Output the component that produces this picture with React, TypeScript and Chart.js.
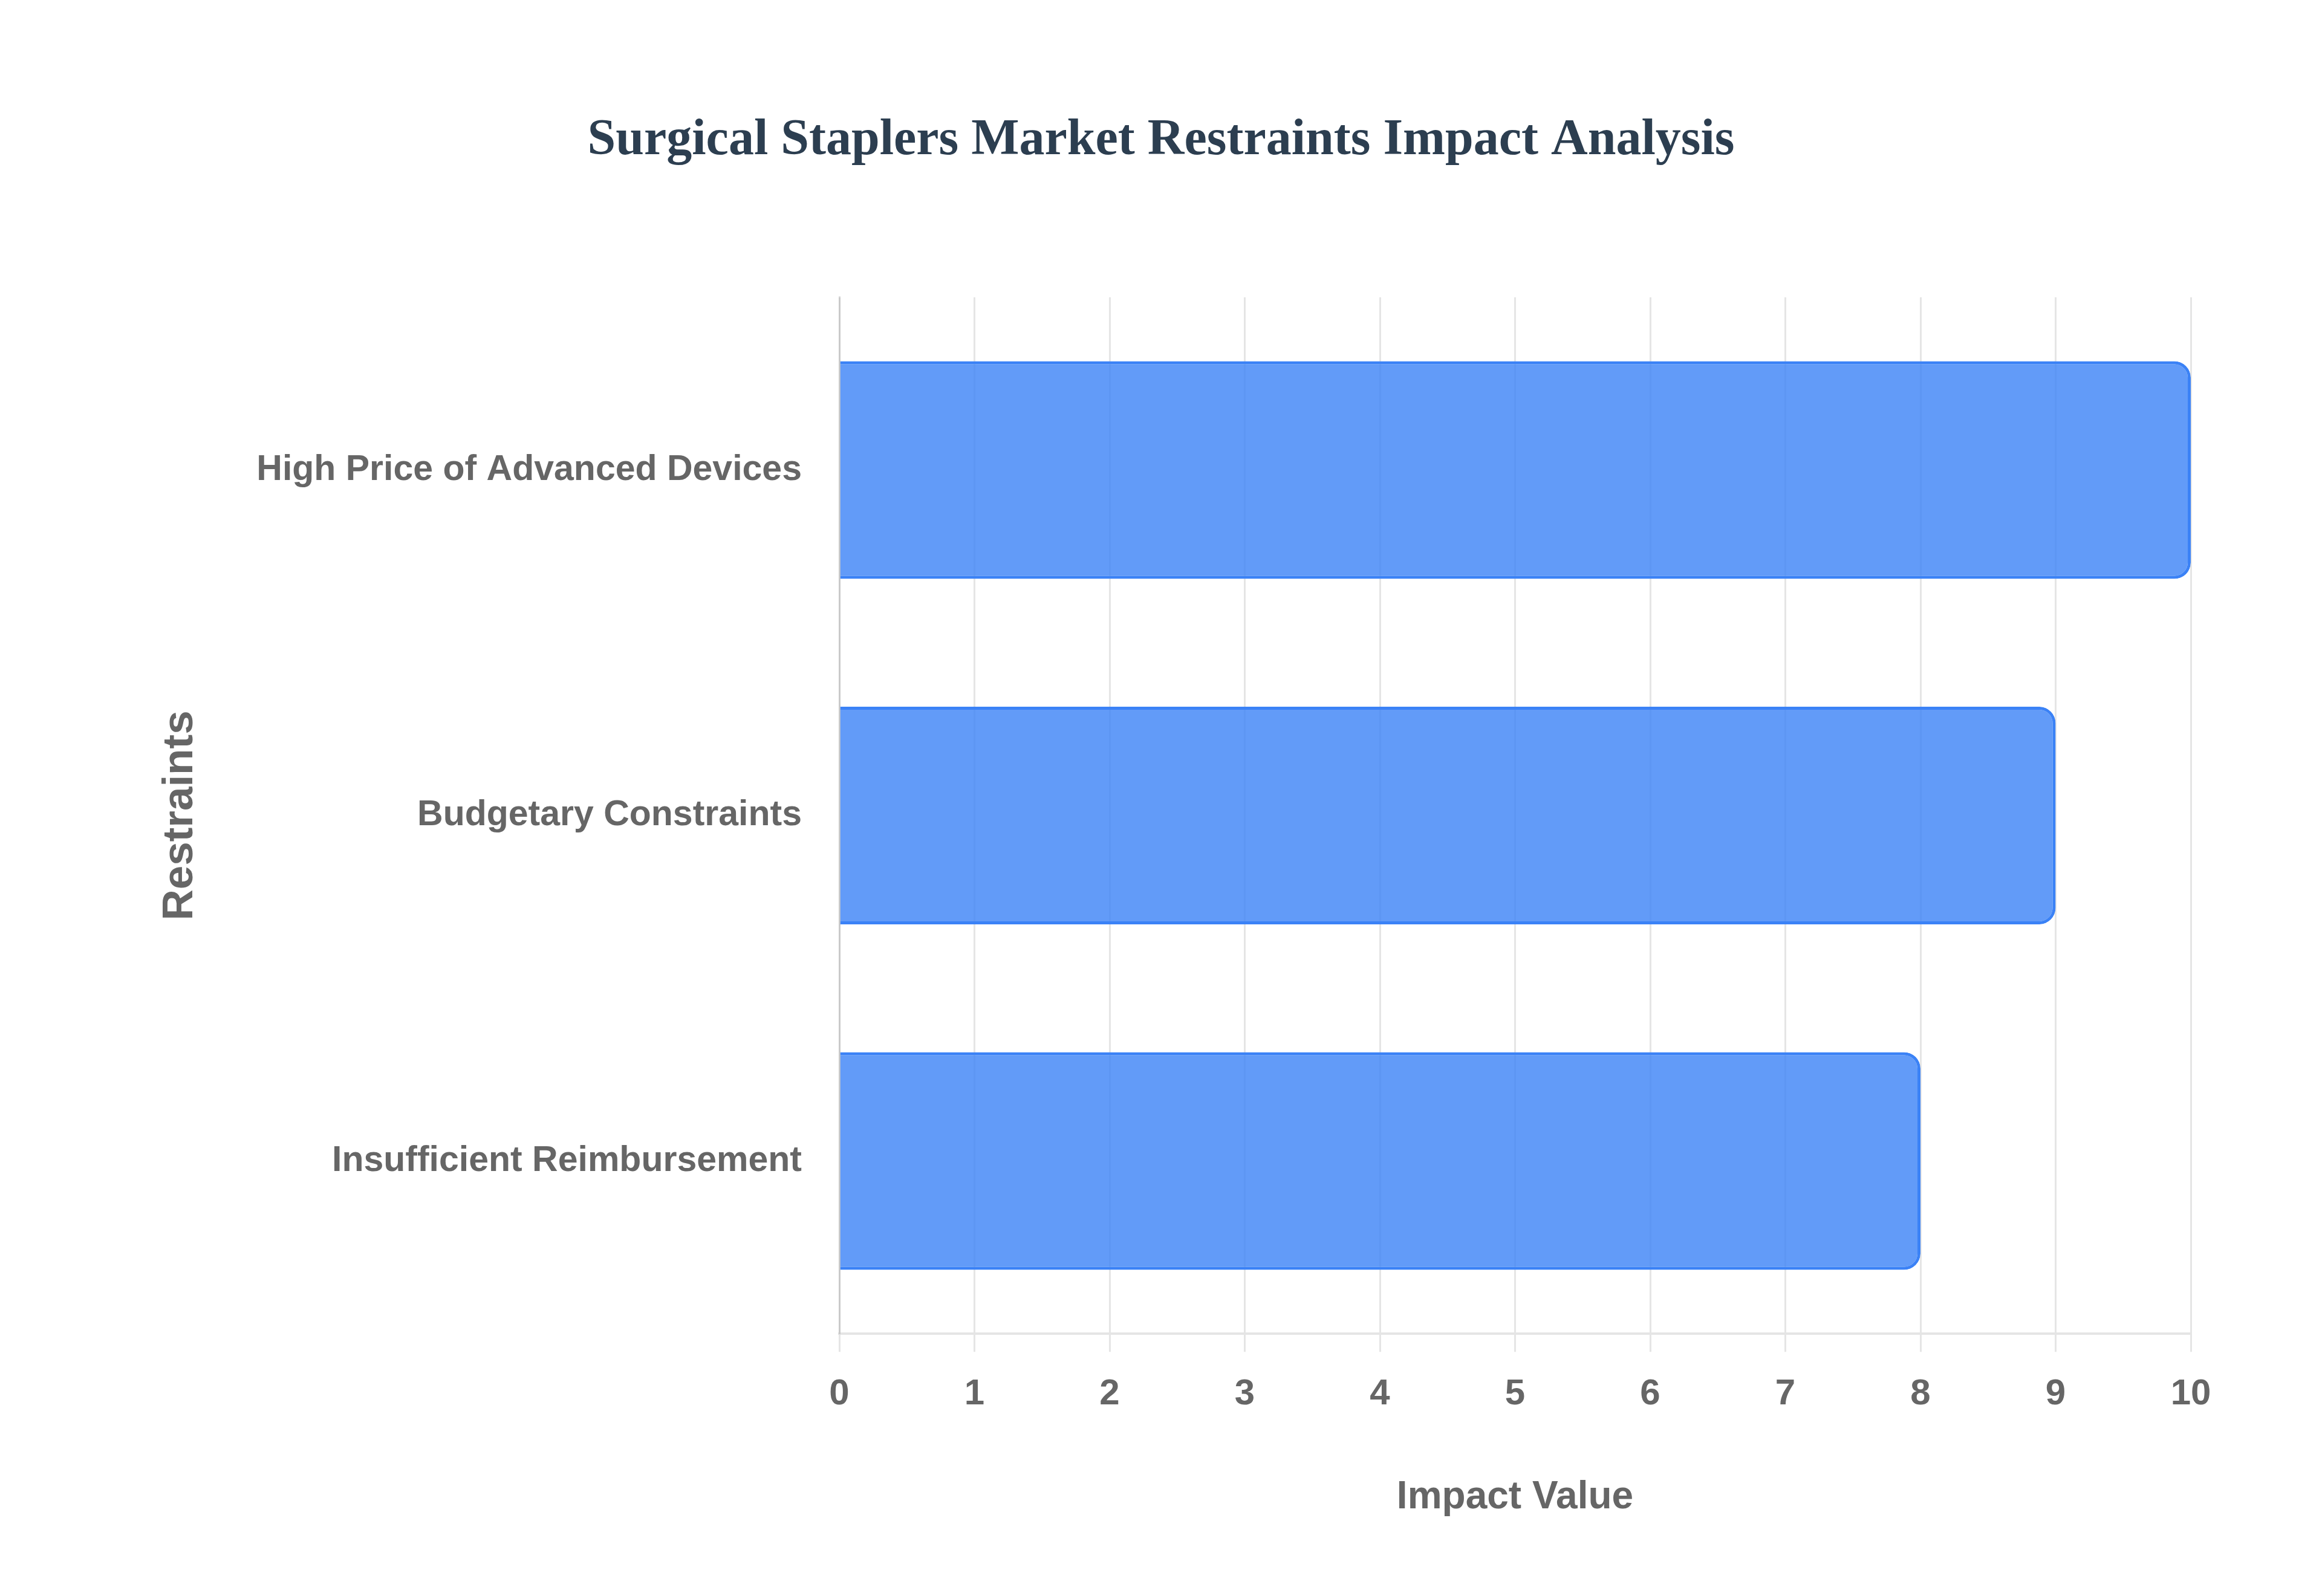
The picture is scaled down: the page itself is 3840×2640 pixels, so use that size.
import React, { useEffect, useRef } from 'react';
import { Chart, registerables } from 'chart.js';

Chart.register(...registerables);

const chartTitle = 'Surgical Staplers Market Restraints Impact Analysis';
const categories = [
  'High Price of Advanced Devices',
  'Budgetary Constraints',
  'Insufficient Reimbursement',
];
const impactValues = [10, 9, 8];
const xAxisMin = 0;
const xAxisMax = 10;
const xAxisStep = 1;
const xAxisTitle = 'Impact Value';
const yAxisTitle = 'Restraints';

const SANS = "'Liberation Sans', Arial, Helvetica, sans-serif";
const SERIF = "'Liberation Serif', 'Times New Roman', serif";

export default function App() {
  const ref = useRef<HTMLCanvasElement>(null);

  useEffect(() => {
    if (!ref.current) return;
    const chart = new Chart(ref.current, {
      type: 'bar',
      data: {
        labels: categories,
        datasets: [
          {
            label: 'Impact Value',
            data: impactValues,
            backgroundColor: 'rgba(59,130,246,0.8)',
            borderColor: 'rgb(59,130,246)',
            borderWidth: 5,
            borderRadius: 27,
            categoryPercentage: 0.7,
            barPercentage: 0.9,
          },
        ],
      },
      options: {
        indexAxis: 'y',
        responsive: true,
        maintainAspectRatio: false,
        animation: false,
        devicePixelRatio: 1,
        layout: { padding: { left: 217, right: 217, top: 0, bottom: 104 } },
        plugins: {
          legend: { display: false },
          tooltip: { enabled: false },
          title: {
            display: true,
            text: chartTitle,
            color: '#2c3e50',
            font: { family: SERIF, size: 84, weight: 'bold' },
            padding: { top: 183, bottom: 208 },
          },
        },
        scales: {
          x: {
            min: xAxisMin,
            max: xAxisMax,
            ticks: {
              stepSize: xAxisStep,
              color: '#666',
              font: { family: SANS, size: 60, weight: 'bold' },
              padding: 34,
            },
            grid: {
              color: 'rgba(0,0,0,0.1)',
              lineWidth: 3,
              tickLength: 30,
              drawTicks: true,
            },
            border: { color: 'rgba(0,0,0,0.1)', width: 4 },
            title: {
              display: true,
              text: xAxisTitle,
              color: '#666',
              font: { family: SANS, size: 64, weight: 'bold' },
              padding: { top: 63, bottom: 20 },
            },
          },
          y: {
            ticks: {
              color: '#666',
              font: { family: SANS, size: 59, weight: 'bold' },
              padding: 62,
            },
            grid: { display: false, drawTicks: false },
            border: { display: true, color: 'rgba(0,0,0,0.12)', width: 3 },
            title: {
              display: true,
              text: yAxisTitle,
              color: '#666',
              font: { family: SANS, size: 71, weight: 'bold' },
              padding: { top: 39, bottom: 0 },
            },
            afterFit: (scale: any) => {
              scale.width = 1171;
            },
          },
        },
      },
    });
    return () => chart.destroy();
  }, []);

  return (
    <div
      style={{
        position: 'fixed',
        left: 0,
        top: 0,
        width: 3840,
        height: 2640,
        background: '#ffffff',
      }}
    >
      <canvas ref={ref} />
    </div>
  );
}
